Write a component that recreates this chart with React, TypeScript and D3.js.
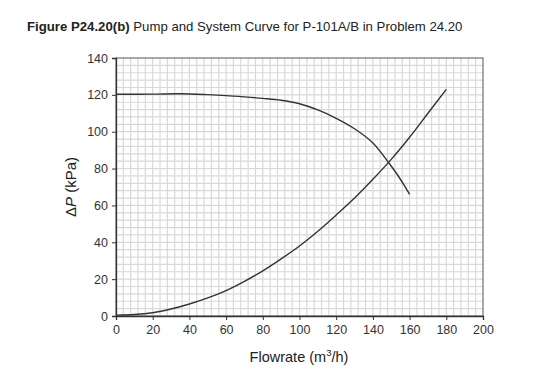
import { useEffect, useRef } from "react";
import * as d3 from "d3";

const xTicks = [0, 20, 40, 60, 80, 100, 120, 140, 160, 180, 200];
const yTicks = [0, 20, 40, 60, 80, 100, 120, 140];

// pump curve
const pumpFlow = [0, 20, 35, 50, 60, 70, 80, 90, 100, 110, 120, 130, 140, 148, 153, 157, 160];
const pumpDP = [120.3, 120.4, 120.6, 120.1, 119.6, 118.9, 118.1, 117.1, 115.2, 111.8, 107.3, 101.6, 93.9, 84, 77.2, 71, 66];

// system curve
const sysFlow = [0, 10, 20, 30, 40, 50, 60, 70, 80, 90, 100, 110, 120, 130, 140, 150, 160, 170, 180];
const sysDP = [0.5, 0.8, 1.8, 3.8, 6.5, 9.8, 13.8, 18.8, 24.5, 31, 38, 46, 54.8, 64, 74.2, 85, 97, 110, 123];

const font = "Arial, 'Liberation Sans', sans-serif";

export default function App() {
  const plotRef = useRef<SVGGElement>(null);

  useEffect(() => {
    const g = d3.select(plotRef.current);
    g.selectAll("*").remove();

    const left = 116, right = 483, top = 58, bottom = 316;

    const x = d3.scaleLinear().domain([0, 200]).range([left, right]);
    const y = d3.scaleLinear().domain([0, 140]).range([bottom, top]);

    // minor grid every 4 units
    const grid = g.append("g").attr("stroke", "#d9d9d9").attr("stroke-width", 1.2);
    grid
      .selectAll("line.vx")
      .data(d3.range(4, 200, 4))
      .join("line")
      .attr("x1", (d) => x(d))
      .attr("x2", (d) => x(d))
      .attr("y1", top)
      .attr("y2", bottom);
    grid
      .selectAll("line.hy")
      .data(d3.range(4, 140, 4))
      .join("line")
      .attr("x1", left)
      .attr("x2", right)
      .attr("y1", (d) => y(d))
      .attr("y2", (d) => y(d));

    // frame
    g.append("rect")
      .attr("x", left)
      .attr("y", top)
      .attr("width", right - left)
      .attr("height", bottom - top)
      .attr("fill", "none")
      .attr("stroke", "#555")
      .attr("stroke-width", 1);

    const xAxis = d3.axisBottom(x).tickValues(xTicks).tickSize(4).tickPadding(5);
    const gx = g.append("g").attr("transform", `translate(0,${bottom})`).call(xAxis);
    const yAxis = d3.axisLeft(y).tickValues(yTicks).tickSize(4).tickPadding(4);
    const gy = g.append("g").attr("transform", `translate(${left},0)`).call(yAxis);

    [gx, gy].forEach((a) => {
      a.select(".domain").attr("stroke", "#333").attr("stroke-width", 1.3);
      a.selectAll(".tick line").attr("stroke", "#333");
      a.selectAll(".tick text")
        .attr("fill", "#333")
        .style("font-family", font)
        .style("font-size", "12.5px");
    });

    const line = d3
      .line<[number, number]>()
      .x((d) => x(d[0]))
      .y((d) => y(d[1]))
      .curve(d3.curveCatmullRom);

    const pump = pumpFlow.map((f, i) => [f, pumpDP[i]] as [number, number]);
    const sys = sysFlow.map((f, i) => [f, sysDP[i]] as [number, number]);

    [pump, sys].forEach((pts) => {
      g.append("path")
        .attr("d", line(pts)!)
        .attr("fill", "none")
        .attr("stroke", "#333")
        .attr("stroke-width", 1.4);
    });
  }, []);

  return (
    <svg width={552} height={392} style={{ position: "absolute", left: 0, top: 0 }}>
      <text x={27} y={31} fontFamily={font} fontSize={13.2} fill="#222">
        <tspan fontWeight="bold">Figure P24.20(b)</tspan> Pump and System Curve for P-101A/B in Problem 24.20
      </text>
      <g ref={plotRef} />
      <text x={299} y={362} textAnchor="middle" fontFamily={font} fontSize={14.5} fill="#222">
        Flowrate (m<tspan dy={-6} fontSize={9.5}>3</tspan>
        <tspan dy={6}>/h)</tspan>
      </text>
      <text
        transform="translate(76,187) rotate(-90)"
        textAnchor="middle"
        fontFamily={font}
        fontSize={15}
        fill="#222"
      >
        Δ<tspan fontStyle="italic">P</tspan> (kPa)
      </text>
    </svg>
  );
}
